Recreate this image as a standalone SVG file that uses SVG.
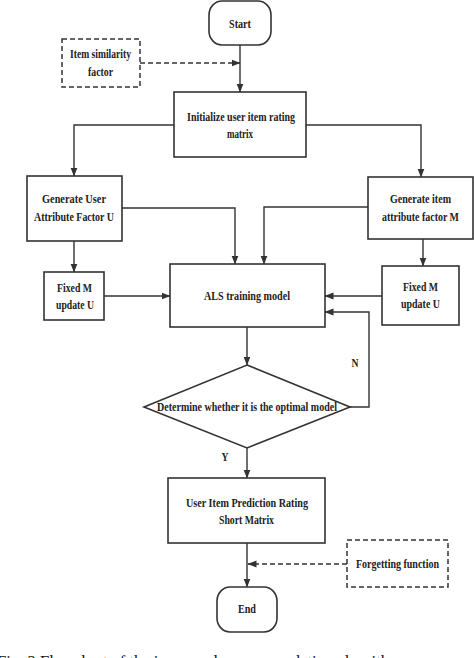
<svg xmlns="http://www.w3.org/2000/svg" width="474" height="658" viewBox="0 0 474 658">
<defs>
<marker id="ah" markerWidth="9" markerHeight="8" refX="8.5" refY="4" orient="auto" markerUnits="userSpaceOnUse"><path d="M0,0.5 L9,4 L0,7.5 z" fill="#333"/></marker>
<style>
.box{fill:#fff;stroke:#333;stroke-width:1.6}
.dbox{fill:#fff;stroke:#333;stroke-width:1.5;stroke-dasharray:5 3}
.ln{fill:none;stroke:#333;stroke-width:1.4;marker-end:url(#ah)}
.dl{fill:none;stroke:#333;stroke-width:1.4;stroke-dasharray:5 3;marker-end:url(#ah)}
text{font-family:"Liberation Serif","Times New Roman",serif;font-weight:bold;font-size:12.5px;fill:#222;text-anchor:middle}
.cap{font-weight:normal;font-size:16px;text-anchor:start;fill:#111}
</style>
</defs>
<rect width="474" height="658" fill="#fff"/>
<g id="connectors">
<path class="ln" d="M240,45 V92"/>
<path class="dl" d="M140,63 H240"/>
<path class="ln" d="M174,125 H74 V176"/>
<path class="ln" d="M306,125 H421 V177"/>
<path class="ln" d="M122,208 H235 V264"/>
<path class="ln" d="M368,207 H264 V264"/>
<path class="ln" d="M74,241 V272"/>
<path class="ln" d="M423,239 V266"/>
<path class="ln" d="M104,296 H170"/>
<path class="ln" d="M382,296 H325"/>
<path class="ln" d="M247,327 V365"/>
<path class="ln" d="M350,407 H369 V312 H325"/>
<path class="ln" d="M247,448 V478"/>
<path class="ln" d="M247,543 V587"/>
<path class="dl" d="M347,564 H248"/>
<text x="355" y="367" textLength="7" lengthAdjust="spacingAndGlyphs">N</text>
<text x="225" y="461" textLength="7" lengthAdjust="spacingAndGlyphs">Y</text>
</g>
<g id="start">
<rect class="box" x="209" y="1" width="62" height="44" rx="13" ry="14"/>
<text x="240" y="28" textLength="22" lengthAdjust="spacingAndGlyphs">Start</text>
</g>
<g id="similarity">
<rect class="dbox" x="62" y="39" width="78" height="48"/>
<text x="100.5" y="58" textLength="61" lengthAdjust="spacingAndGlyphs">Item similarity</text>
<text x="100.5" y="76" textLength="25" lengthAdjust="spacingAndGlyphs">factor</text>
</g>
<g id="init">
<rect class="box" x="174" y="92" width="132" height="65"/>
<text x="241" y="121" textLength="108" lengthAdjust="spacingAndGlyphs">Initialize user item rating</text>
<text x="240" y="138" textLength="26" lengthAdjust="spacingAndGlyphs">matrix</text>
</g>
<g id="genUser">
<rect class="box" x="27" y="176" width="95" height="65"/>
<text x="74" y="203" textLength="64" lengthAdjust="spacingAndGlyphs">Generate User</text>
<text x="74" y="221" textLength="80" lengthAdjust="spacingAndGlyphs">Attribute Factor U</text>
</g>
<g id="genItem">
<rect class="box" x="368" y="177" width="105" height="62"/>
<text x="420.5" y="203" textLength="61" lengthAdjust="spacingAndGlyphs">Generate item</text>
<text x="420.5" y="221" textLength="77" lengthAdjust="spacingAndGlyphs">attribute factor M</text>
</g>
<g id="fixedLeft">
<rect class="box" x="44" y="272" width="60" height="48"/>
<text x="74.5" y="292" textLength="35" lengthAdjust="spacingAndGlyphs">Fixed M</text>
<text x="75" y="309" textLength="38" lengthAdjust="spacingAndGlyphs">update U</text>
</g>
<g id="fixedRight">
<rect class="box" x="382" y="266" width="77" height="59"/>
<text x="420.5" y="291" textLength="35" lengthAdjust="spacingAndGlyphs">Fixed M</text>
<text x="420.5" y="308" textLength="39" lengthAdjust="spacingAndGlyphs">update U</text>
</g>
<g id="als">
<rect class="box" x="170" y="264" width="155" height="63"/>
<text x="247" y="300" textLength="86" lengthAdjust="spacingAndGlyphs">ALS training model</text>
</g>
<g id="decision">
<polygon class="box" points="247,365 350,407 247,448 144,407"/>
<text x="247" y="411" textLength="180" lengthAdjust="spacingAndGlyphs">Determine whether it is the optimal model</text>
</g>
<g id="prediction">
<rect class="box" x="168" y="478" width="157" height="65"/>
<text x="247" y="507" textLength="122" lengthAdjust="spacingAndGlyphs">User Item Prediction Rating</text>
<text x="246.5" y="524" textLength="55" lengthAdjust="spacingAndGlyphs">Short Matrix</text>
</g>
<g id="forgetting">
<rect class="dbox" x="347" y="540" width="101" height="47"/>
<text x="397.5" y="568" textLength="83" lengthAdjust="spacingAndGlyphs">Forgetting function</text>
</g>
<g id="end">
<rect class="box" x="217" y="587" width="60" height="45" rx="13" ry="14"/>
<text x="247" y="613" textLength="18" lengthAdjust="spacingAndGlyphs">End</text>
</g>
<text class="cap" x="-3" y="667" textLength="405" lengthAdjust="spacingAndGlyphs">Fig. 2   Flowchart of the improved recommendation algorithm</text>
</svg>
